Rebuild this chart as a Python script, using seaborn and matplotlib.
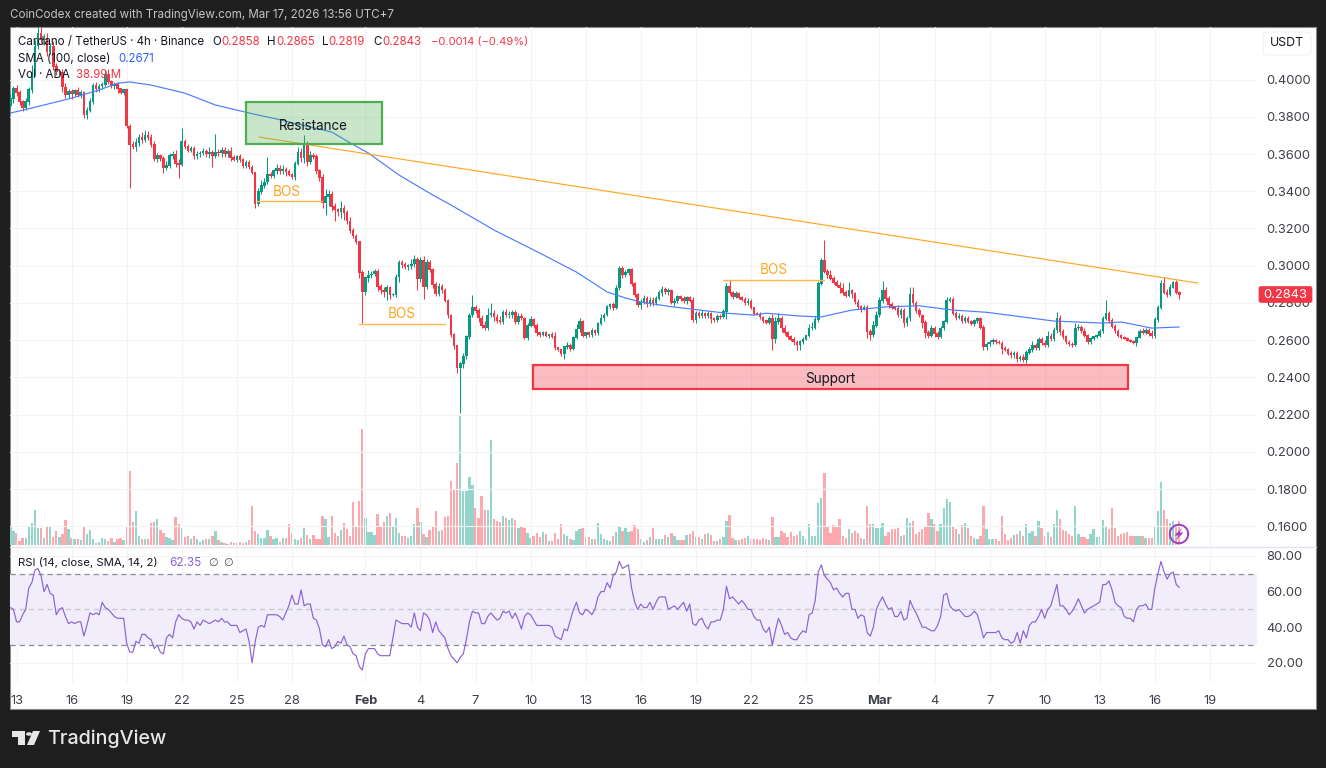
import numpy as np
import pandas as pd
import matplotlib
matplotlib.use("Agg")
import matplotlib.pyplot as plt
from matplotlib.patches import Rectangle, Polygon, Circle, FancyBboxPatch
import seaborn as sns

# ---------- data (prices in 1/10000 USDT) ----------
closes = [
 3900,3950,3930,3880,3850,3880,3945,4040,4180,4250,4215,4220,4150,4180,4070,4040,4040,3960,3920,3935,
 3925,3940,3920,3930,3810,3835,3880,3970,3950,3965,3975,4030,3990,3965,3975,3950,3930,3945,3750,3650,
 3640,3660,3690,3675,3700,3690,3650,3575,3590,3575,3525,3540,3590,3600,3550,3545,3670,3640,3620,3630,
 3590,3600,3605,3615,3600,3610,3590,3610,3605,3620,3600,3615,3580,3570,3585,3570,3540,3555,3530,3500,
 3335,3400,3430,3450,3490,3485,3510,3525,3510,3520,3505,3490,3480,3550,3610,3580,3650,3560,3590,3585,
 3510,3475,3340,3370,3385,3320,3300,3290,3310,3285,3240,3190,3160,3130,2965,2860,2935,2950,2955,2970,
 2890,2870,2860,2885,2845,2845,2940,3020,3005,2995,3000,3010,3035,2930,3030,2890,3020,2980,2900,2850,
 2890,2870,2815,2735,2630,2570,2455,2475,2515,2620,2735,2775,2760,2720,2680,2670,2735,2745,2725,2705,
 2700,2750,2735,2740,2750,2700,2730,2720,2615,2680,2710,2680,2640,2630,2640,2625,2630,2620,2560,2550,
 2530,2565,2575,2555,2615,2660,2700,2625,2640,2630,2655,2640,2690,2720,2735,2780,2790,2775,2880,2985,
 2950,2965,2980,2905,2845,2790,2805,2825,2795,2815,2800,2825,2855,2875,2860,2870,2800,2810,2835,2825,
 2810,2830,2815,2710,2745,2730,2745,2730,2745,2715,2710,2730,2725,2755,2890,2855,2835,2850,2830,2820,
 2800,2810,2775,2745,2740,2725,2705,2695,2720,2610,2700,2720,2665,2640,2620,2605,2590,2575,2595,2605,
 2625,2665,2670,2710,2905,3030,2970,2950,2930,2910,2895,2880,2855,2840,2870,2850,2805,2780,2765,2775,
 2645,2630,2680,2735,2815,2870,2825,2790,2775,2770,2735,2760,2695,2720,2845,2800,2760,2735,2695,2640,
 2625,2665,2635,2620,2665,2700,2815,2820,2745,2720,2730,2705,2720,2700,2690,2705,2715,2670,2565,2580,
 2590,2600,2590,2585,2555,2550,2530,2520,2530,2500,2510,2495,2535,2550,2570,2560,2605,2585,2575,2620,
 2610,2655,2720,2645,2620,2590,2580,2575,2665,2670,2650,2625,2595,2610,2620,2625,2650,2715,2745,2705,
 2675,2650,2625,2615,2610,2600,2595,2585,2615,2645,2640,2655,2635,2625,2710,2775,2905,2855,2845,2885,
 2910,2858,2843]
first_open = 3860
upper_wick = [
 20,15,20,15,10,20,15,40,30,45,30,25,30,15,25,20,15,15,20,15,
 15,10,20,15,10,20,20,10,15,10,10,20,25,10,10,10,5,5,5,10,
 20,25,15,30,30,25,15,20,15,10,15,25,15,15,20,25,70,10,15,15,
 15,15,10,15,10,30,10,100,15,15,15,10,20,15,10,15,10,15,15,10,
 5,15,30,20,95,15,10,20,15,20,10,15,10,15,25,20,50,20,25,15,
 15,10,15,40,20,15,15,10,40,15,15,20,10,10,5,10,10,25,15,10,
 15,10,15,10,5,10,15,10,10,15,10,25,20,10,15,20,15,10,10,15,
 15,10,10,5,5,10,5,10,15,10,10,70,15,15,15,25,40,55,15,15,
 25,10,15,15,10,10,15,15,5,15,20,10,15,5,10,10,5,15,25,5,
 5,5,15,10,10,25,20,10,5,10,10,5,10,20,10,10,10,15,15,15,
 15,10,10,10,5,10,15,20,15,15,15,10,15,15,10,10,5,15,10,10,
 10,10,5,15,10,10,15,5,10,5,10,10,10,10,15,35,10,15,10,10,
 10,15,10,5,5,10,5,10,10,20,25,25,10,15,10,10,10,10,5,10,
 5,20,30,20,15,10,110,15,25,15,15,15,25,15,40,5,10,15,10,15,
 15,15,25,20,15,50,15,10,15,10,20,15,15,10,40,40,10,15,5,15,
 15,15,10,15,10,10,15,10,10,10,15,10,10,10,10,10,10,10,10,10,
 10,10,5,10,10,15,10,10,10,10,10,15,15,15,25,15,15,10,15,30,
 20,15,30,15,15,10,10,10,25,15,10,15,10,10,5,10,10,15,70,10,
 15,10,10,10,10,5,5,5,5,15,20,10,10,20,15,15,20,35,20,15,
 10,15,7]
lower_wick = [
 20,25,20,15,20,15,15,15,20,15,20,30,25,15,20,15,15,25,20,20,
 30,15,15,20,15,20,10,10,15,15,15,10,15,10,15,20,10,15,10,230,
 15,25,15,15,10,15,15,15,20,15,25,10,15,15,20,75,10,15,10,10,
 15,15,15,10,15,20,60,10,15,20,15,15,20,10,15,15,15,15,10,10,
 25,15,15,15,10,15,15,15,15,15,25,10,15,20,10,25,30,25,15,10,
 15,20,30,65,50,25,60,25,35,40,15,15,10,15,30,170,15,20,15,10,
 25,20,30,45,25,10,15,25,15,15,20,15,15,60,15,70,15,15,20,15,
 15,15,10,15,15,15,30,245,25,15,15,10,15,20,15,15,15,10,20,15,
 15,15,10,15,20,15,15,10,10,15,10,15,15,10,5,10,15,10,15,10,
 15,30,10,15,10,10,15,10,15,10,10,10,10,10,15,5,15,15,10,10,
 15,10,15,15,15,10,20,10,15,10,15,10,10,15,10,15,5,15,10,15,
 10,15,10,10,15,10,10,10,10,20,10,10,10,5,40,10,15,10,10,10,
 10,10,10,10,5,10,10,10,10,60,25,15,20,10,15,10,15,30,30,15,
 5,10,10,10,10,10,10,15,5,10,10,25,10,10,10,25,10,10,15,5,
 35,30,15,10,10,15,15,15,10,10,10,15,25,20,15,10,15,10,30,30,
 15,10,15,15,10,10,10,10,10,10,5,15,10,10,10,15,10,10,20,15,
 10,10,10,5,30,10,10,15,15,15,10,10,17,10,15,10,10,10,10,10,
 15,15,15,15,15,10,10,10,5,10,10,10,15,15,10,10,10,10,5,10,
 10,10,10,10,5,5,5,5,15,5,5,5,10,15,15,10,10,5,15,10,
 5,10,24]
volume_m = [
 29,23,20,7,11,11,31,36,56,27,28,12,29,31,13,23,13,18,40,26,
 12,10,10,8,30,18,24,9,4,5,12,10,7,11,5,9,12,8,30,119,
 37,55,14,10,10,10,36,37,41,24,19,13,11,8,45,34,27,13,14,9,
 15,10,5,8,10,10,15,22,8,5,4,2,5,4,3,5,4,5,8,62,
 22,18,11,11,24,15,10,12,5,11,11,34,19,10,8,12,28,16,10,16,
 10,10,46,41,13,46,20,15,24,36,25,14,69,30,70,185,43,21,21,16,
 49,29,37,47,51,30,43,20,14,14,12,14,33,60,37,18,13,24,31,55,
 23,24,45,46,103,90,132,206,86,86,109,96,59,43,79,56,56,168,42,38,
 37,47,44,40,43,40,28,31,27,19,12,14,20,13,21,17,6,7,19,10,
 34,18,14,10,8,23,26,28,13,13,9,10,36,18,10,8,7,14,21,30,
 22,27,21,22,32,25,9,5,8,13,27,10,10,10,16,13,19,15,8,8,
 8,16,18,22,13,13,10,18,20,16,6,6,10,13,38,48,11,8,8,10,
 11,14,10,10,10,8,12,10,8,45,13,13,22,19,13,21,15,16,22,14,
 10,33,15,15,67,75,115,29,19,32,29,41,14,11,26,19,22,19,12,10,
 63,33,34,27,27,36,15,21,25,25,28,14,16,43,36,38,18,21,25,30,
 51,41,33,22,33,60,73,69,31,25,18,32,35,28,14,11,10,14,63,26,
 10,10,10,7,47,18,8,11,16,18,22,15,33,19,23,15,39,28,14,21,
 13,33,56,41,24,22,17,14,63,18,13,13,10,18,25,13,13,40,31,25,
 60,27,14,18,19,21,14,14,14,14,14,12,11,12,31,54,101,56,42,36,
 38,33,39]
rsi_values = [
 51,50,43,43,47,50,62,65,72,73,69,60,64,59,58,47,50,51,46,42,
 43,42,43,43,35,41,48,47,48,47,54,51,50,48,46,45,45,45,31,26,
 26,32,31,36,36,34,33,28,30,26,25,34,36,34,43,47,45,44,44,43,
 39,43,41,44,43,42,43,44,43,45,43,43,41,41,41,37,38,39,32,20,
 32,40,41,40,47,47,47,47,46,44,48,52,58,53,53,61,52,53,53,45,
 44,39,30,29,33,28,29,32,31,35,30,29,25,24,18,16,25,28,28,28,
 25,24,24,24,24,34,44,43,42,42,42,40,48,40,38,48,47,44,37,43,
 38,36,34,28,24,22,20,23,25,33,43,49,48,48,42,42,46,48,46,44,
 45,49,48,49,45,48,44,39,46,48,47,44,41,41,41,41,41,40,35,34,
 33,39,38,44,50,54,48,47,50,49,47,50,57,60,60,65,62,69,71,77,
 73,74,75,62,54,50,53,51,51,54,50,54,57,57,57,50,51,52,50,52,
 54,49,53,42,41,44,45,41,39,43,43,44,44,50,63,56,57,55,53,55,
 53,50,50,46,44,44,39,37,40,30,38,45,41,36,37,34,33,33,36,38,
 37,47,48,55,71,75,69,67,65,61,62,59,57,59,59,50,50,45,47,46,
 37,35,40,50,54,57,53,50,51,46,46,49,44,45,55,51,48,44,40,40,
 39,38,38,41,46,58,59,52,50,49,50,48,46,46,47,49,47,41,34,37,
 37,37,37,38,34,33,33,31,32,37,31,38,34,41,43,43,46,50,45,50,
 52,58,64,52,52,50,47,49,52,56,52,48,50,51,52,53,54,64,64,66,
 61,54,52,51,46,45,45,43,50,52,52,53,50,50,62,70,77,71,67,70,
 71,64,62.35]
sma_candle = [0,7,20,29,35,39,46,57,67,78,87,98,105,111,117,127,138,144,158,173,185,195,201,206,216,234,243,247,258,265,275,287,297,308,319,341,357,363,373,382]
sma_price = [3820,3847,3900,3944,3980,3987,3970,3927,3863,3820,3788,3745,3718,3660,3605,3487,3380,3326,3192,3068,2966,2859,2827,2805,2780,2745,2735,2745,2730,2725,2762,2780,2785,2762,2750,2703,2692,2698,2665,2671]

price_ticks = [0.40,0.38,0.36,0.34,0.32,0.30,0.28,0.26,0.24,0.22,0.20,0.18,0.16]
rsi_ticks = [80,60,40,20]
tick_days = [0,3,6,9,12,15,19,22,25,28,31,34,37,40,43,47,50,53,56,59,62,65]
tick_labels = ["13","16","19","22","25","28","Feb","4","7","10","13","16","19","22","25","Mar","4","7","10","13","16","19"]

trend_k = [81.2,388.0];  trend_p = [0.3691,0.2907]
bos_segments = [(80.6,101.8,0.3349,"BOS",90.4,0.3397),(114.0,142.0,0.2687,"BOS",128.0,0.2742),(233.0,266.0,0.2923,"BOS",249.5,0.2979)]
resistance = (77.0,121.3,0.3652,0.3879)
support = (170.9,365.2,0.2338,0.2467)

# ---------- colours ----------
GREEN, RED = "#089981", "#f23645"
VOL_G, VOL_R = "#93d5ca", "#fba9ae"
DARK, INK, BG = "#131722", "#3d4048", "#1e1e1e"
GRID = "#f3f4f6"; ORANGE = "#ffa726"; BLUE = "#4a7dff"; PURPLE = "#8b63d4"

W, H = 1326, 768
sns.set_theme(style="white")
plt.rcParams["font.family"] = ["Inter", "DejaVu Sans"]
fig = plt.figure(figsize=(W/100, H/100), dpi=100, facecolor=BG)

def box(x0, y0, x1, y1):
    return [x0/W, 1-y1/H, (x1-x0)/W, (y1-y0)/H]
def fx(x): return x/W
def fy(y): return 1-y/H
def ftext(x, y, s, **kw):
    kw.setdefault("va", "center"); kw.setdefault("ha", "left")
    return fig.text(fx(x), fy(y), s, **kw)

# white panel
fig.patches.append(Rectangle((fx(10), fy(708.5)), 1306/W, 682/H, transform=fig.transFigure,
                             fc="white", ec="#8a8a8a", lw=0.8, zorder=-5))

k = np.arange(len(closes))
c = np.array(closes)/1e4
o = np.array([first_open]+closes[:-1])/1e4
up = np.array(upper_wick)/1e4
lo = np.array(lower_wick)/1e4
hi = np.maximum(o, c)+up
lw_ = np.minimum(o, c)-lo
rising = c >= o
XLIM = ((10-10.4)/3.06, (1257-10.4)/3.06)
tick_k = [2+6*d for d in tick_days]

# volume layer
axv = fig.add_axes(box(10, 27, 1257, 546), facecolor="none")
df = pd.DataFrame({"k": k, "vol": volume_m, "dir": np.where(rising, "up", "down")})
sns.barplot(data=df, x="k", y="vol", hue="dir", palette={"up": VOL_G, "down": VOL_R}, native_scale=True,
            dodge=False, width=0.76, saturation=1, legend=False, ax=axv, errorbar=None, linewidth=0)
axv.set_xlim(*XLIM); axv.set_ylim(-1.6, 829)
axv.axis("off")

# price layer
ax = fig.add_axes(box(10, 27, 1257, 546), facecolor="none", zorder=2)
ax.set_xlim(*XLIM); ax.set_ylim(0.1495, 0.4282)
ax.vlines(k, lw_, hi, colors=np.where(rising, GREEN, RED), linewidth=0.75, zorder=3)
ax.bar(k, np.abs(c-o)+0.0004, bottom=np.minimum(o, c)-0.0002, width=0.84, color=np.where(rising, GREEN, RED), linewidth=0, zorder=4)
sns.lineplot(x=sma_candle, y=np.array(sma_price)/1e4, ax=ax, color=BLUE, linewidth=0.85, estimator=None, zorder=6, legend=False)
sns.lineplot(x=trend_k, y=trend_p, ax=ax, color=ORANGE, linewidth=0.85, estimator=None, zorder=6, legend=False)
for x0, x1, p, lab, tx, ty in bos_segments:
    sns.lineplot(x=[x0, x1], y=[p, p], ax=ax, color="#ffb74d", linewidth=1.0, estimator=None, zorder=6, legend=False)
    ax.text(tx, ty, lab, color="#ffa726", fontsize=9.8, ha="center", va="center", zorder=8)
ax.add_patch(Rectangle((resistance[0], resistance[2]), resistance[1]-resistance[0], resistance[3]-resistance[2],
                       fc=(76/255, 175/255, 80/255, 0.30), ec="#4caf50", lw=1.6, zorder=7))
ax.text(sum(resistance[:2])/2, 0.3750, "Resistance", color=DARK, fontsize=9.7, ha="center", va="center", zorder=8)
ax.add_patch(Rectangle((support[0], support[2]), support[1]-support[0], support[3]-support[2],
                       fc=(242/255, 54/255, 69/255, 0.33), ec=RED, lw=1.6, zorder=7))
ax.text(sum(support[:2])/2, 0.2393, "Support", color=DARK, fontsize=9.7, ha="center", va="center", zorder=8)

ax.yaxis.tick_right()
ax.set_yticks(price_ticks); ax.set_yticklabels([f"{p:.4f}" for p in price_ticks])
ax.set_xticks(tick_k); ax.set_xticklabels([])
ax.tick_params(axis="both", length=0, labelsize=9.3, labelcolor=INK)
ax.tick_params(axis="y", pad=7)
ax.grid(True, color=GRID, lw=0.8, zorder=0); ax.set_axisbelow(True)
for s in ax.spines.values(): s.set_visible(False)

# RSI pane
axr = fig.add_axes(box(10, 548, 1257, 683), facecolor="none", zorder=2)
axr.set_xlim(*XLIM); axr.set_ylim(80-(683-556)/1.78, 80+(556-548)/1.78)
axr.axhspan(30, 70, color="#f1edfa", lw=0, zorder=1)
for lev, col in ((70, "#8f9199"), (50, "#c9cad0"), (30, "#8f9199")):
    axr.axhline(lev, color=col, lw=0.95, dashes=(4, 3), zorder=2)
sns.lineplot(x=k, y=rsi_values, ax=axr, color=PURPLE, linewidth=0.85, estimator=None, zorder=5, legend=False)
axr.yaxis.tick_right()
axr.set_yticks(rsi_ticks); axr.set_yticklabels([f"{v:.2f}" for v in rsi_ticks])
axr.set_xticks(tick_k); axr.set_xticklabels(tick_labels)
for t, lab in zip(axr.get_xticklabels(), tick_labels):
    if lab in ("Feb", "Mar"):
        t.set_fontweight("bold")
axr.tick_params(axis="both", length=0, labelsize=9.3, labelcolor=INK)
axr.tick_params(axis="y", pad=7); axr.tick_params(axis="x", pad=9)
axr.grid(True, color=GRID, lw=0.8, zorder=0); axr.set_axisbelow(True)
for s in axr.spines.values(): s.set_visible(False)
fig.add_artist(plt.Line2D([fx(10), fx(1316)], [fy(547), fy(547)], color="#e4e3f0", lw=1))

# header / footer
ftext(10, 15, "CoinCodex created with TradingView.com, Mar 17, 2026 13:56 UTC+7", color="#c4c4c4", fontsize=8.35)
ftext(47, 739, "TradingView", color="#e6e6e6", fontsize=14.2, fontweight="medium")
logo = "#e6e6e6"
fig.patches.append(Polygon([(fx(12), fy(731)), (fx(25), fy(731)), (fx(25), fy(745)), (fx(18), fy(745)), (fx(18), fy(737)), (fx(12), fy(737))],
                           closed=True, transform=fig.transFigure, fc=logo, ec="none"))
fig.patches.append(Circle((fx(29), fy(734)), 3/W, transform=fig.transFigure, fc=logo, ec="none"))
fig.patches.append(Polygon([(fx(33), fy(731)), (fx(40), fy(731)), (fx(34), fy(745)), (fx(27), fy(745))],
                           closed=True, transform=fig.transFigure, fc=logo, ec="none"))

# legends
fs = 8.3
ftext(18, 42, "Cardano / TetherUS · 4h · Binance", color=DARK, fontsize=fs, zorder=10)
for x, s, col in [(212, "O", DARK), (221, "0.2858", RED), (267, "H", DARK), (276, "0.2865", RED),
                  (322, "L", DARK), (328, "0.2819", RED), (373, "C", DARK), (382, "0.2843", RED)]:
    ftext(x, 42, s, color=col, fontsize=fs, zorder=10)
ftext(431, 42, "−0.0014 (−0.49%)", color=RED, fontsize=8.0, zorder=10)
ftext(18, 59, "SMA (100, close)", color=DARK, fontsize=fs, zorder=10)
ftext(118, 59, "0.2671", color="#2962ff", fontsize=fs, zorder=10)
ftext(18, 75, "Vol · ADA", color=DARK, fontsize=fs, zorder=10)
ftext(76, 75, "38.99 M", color=RED, fontsize=fs, zorder=10)
ftext(18, 562.5, "RSI (14, close, SMA, 14, 2)", color=DARK, fontsize=8.2, zorder=10)
ftext(169, 562.5, "62.35", color=PURPLE, fontsize=8.5, zorder=10)
ftext(208, 562.5, "∅", color="#555", fontsize=8, zorder=10, family="DejaVu Sans")
ftext(223, 562.5, "∅", color="#555", fontsize=8, zorder=10, family="DejaVu Sans")

# price scale extras
fig.add_artist(FancyBboxPatch((fx(1263), fy(55)), 48/W, 23/H, boxstyle="round,pad=0,rounding_size=0.004",
                              transform=fig.transFigure, fc="white", ec="#f0f1f3", lw=0.8, zorder=5))
ftext(1286.5, 43, "USDT", color=DARK, fontsize=8.9, ha="center", zorder=10)
fig.add_artist(FancyBboxPatch((fx(1259), fy(302.5)), 53/W, 16/H, boxstyle="round,pad=0,rounding_size=0.002",
                              transform=fig.transFigure, fc=RED, ec=RED, lw=0.5, zorder=5))
ftext(1285.5, 294.5, "0.2843", color="white", fontsize=9.3, ha="center", zorder=10)

# lightning badge
fig.add_artist(plt.Line2D([fx(1179+9.2*np.cos(a)) for a in np.linspace(0, 2*np.pi, 60)],
                          [fy(534+9.2*np.sin(a)) for a in np.linspace(0, 2*np.pi, 60)],
                          color="#9c3fc0", lw=1.4, zorder=9))
fig.add_artist(Polygon([(fx(1182.5), fy(527.5)), (fx(1174.5), fy(535.5)), (fx(1178.5), fy(535.5)), (fx(1175.5), fy(540.5)),
                        (fx(1183.5), fy(532.5)), (fx(1179.5), fy(532.5))],
                       closed=True, transform=fig.transFigure, fc="#9c3fc0", ec="none", zorder=9))

fig.savefig("out.png", dpi=100, facecolor=BG)
